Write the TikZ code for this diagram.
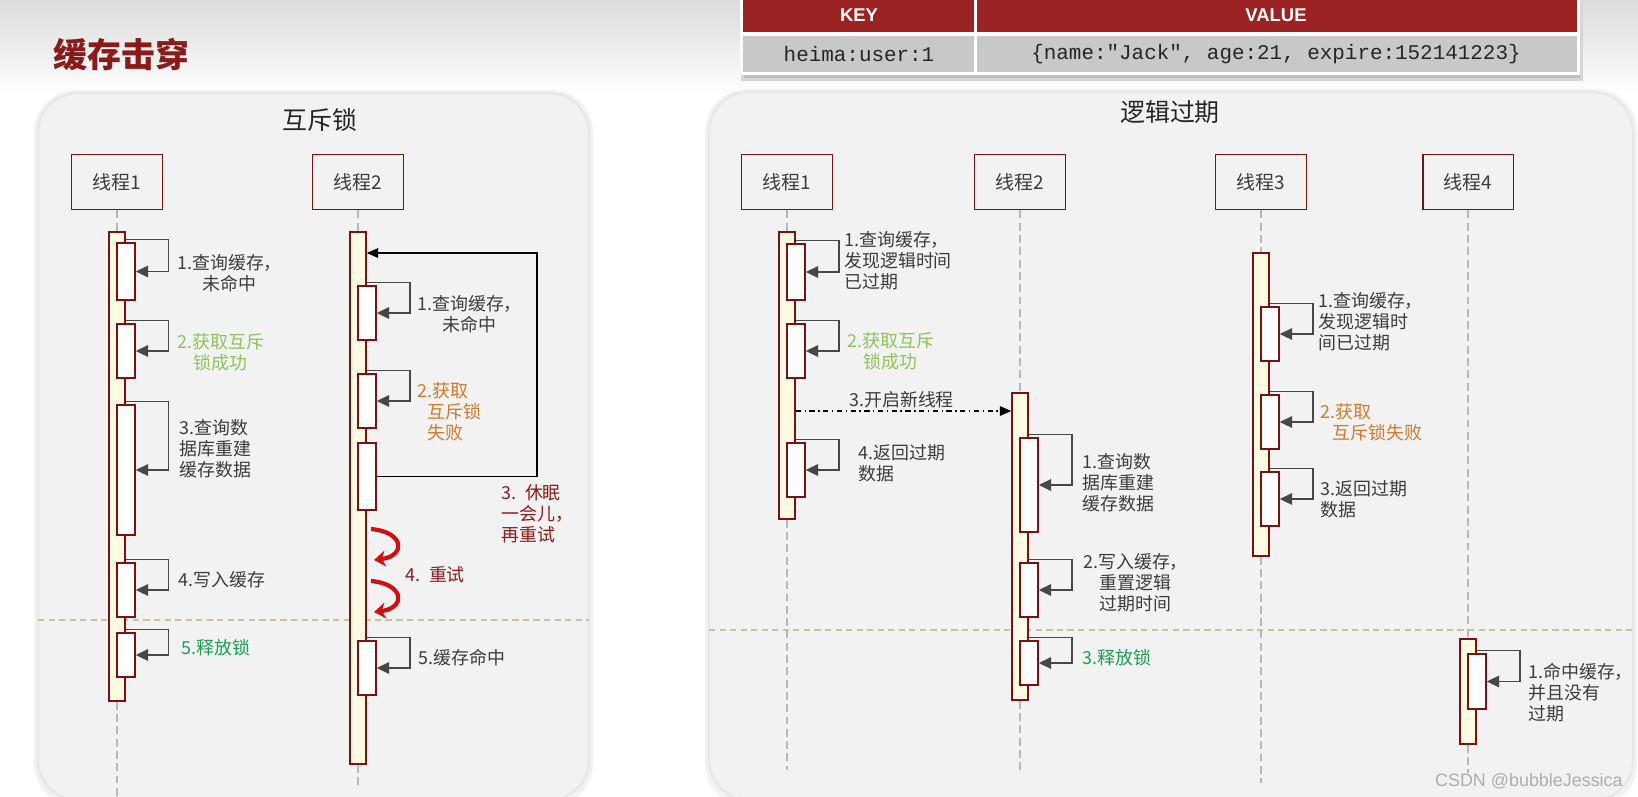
\documentclass[tikz,border=0pt]{standalone}
\usepackage{fontspec}
\setmainfont{Noto Sans CJK SC}
\newfontfamily\codefont{Liberation Mono}
\newfontfamily\headfont{Liberation Sans}
\usetikzlibrary{arrows.meta,fit,positioning}

\definecolor{darkred}{HTML}{7A1212}
\definecolor{titlered}{HTML}{8B1A1A}
\definecolor{cream}{HTML}{FFFBE3}
\definecolor{panel}{HTML}{F2F2F2}
\definecolor{txt}{HTML}{3C3C3C}
\definecolor{okgreen}{HTML}{8CC45A}
\definecolor{relgreen}{HTML}{1E9E55}
\definecolor{failorange}{HTML}{D27A2C}
\definecolor{sleepred}{HTML}{8E1B1B}
\definecolor{turnred}{HTML}{D01010}
\definecolor{hdrred}{HTML}{9B2323}
\definecolor{cellgray}{HTML}{C8C8C8}
\definecolor{sepline}{HTML}{C8C49A}

\begin{document}
\begin{tikzpicture}[x = .02cm, y = -.02cm,
	thread/.style = {draw = darkred, line width = 1.1pt, fill = panel, minimum width = 1.82cm, minimum height = 1.1cm, text = txt, font = \fontsize{10.8}{13}\selectfont},
	bar/.style = {draw = darkred, line width = .8pt, fill = cream, inner sep = 0},
	act/.style = {draw = darkred, line width = .8pt, fill = white, inner sep = 0},
	self/.style = {draw = black!72, line width = .9pt, -{Triangle[length = 7pt, width = 6.5pt]}},
	back/.style = {draw = black, line width = .6pt, -{Triangle[length = 6.5pt, width = 5.5pt]}},
	msg/.style = {draw = black, line width = .6pt, dash pattern = on 3pt off 2pt on .8pt off 2pt, -{Triangle[length = 6.5pt, width = 5.5pt]}},
	redturn/.style = {draw = turnred, line width = 2.4pt, -{Stealth[length = 6.5pt, width = 9pt]}},
	life/.style = {draw = black!28, line width = .7pt, dash pattern = on 4.5pt off 2.5pt},
	sep/.style = {draw = sepline, line width = .6pt, dash pattern = on 3.5pt off 2.5pt},
	lbl/.style = {anchor = north west, inner sep = 0, text = txt, align = left, font = \fontsize{10.2}{11.9}\selectfont},
	head/.style = {text = black!85, font = \fontsize{14.2}{16}\selectfont},
	panelbox/.style = {fill = panel, draw = black!9, line width = 1.5pt, rounded corners = .8cm},
	cell/.style = {inner sep = 0, text = black!85, font = \codefont\fontsize{11.9}{14}\selectfont}
]
\useasboundingbox (0,0) rectangle (1638,796);
\clip (0,0) rectangle (1638,796);
\fill [white] (0,0) rectangle (1638,796);
\shade [top color = black!14, bottom color = white] (0,0) rectangle (1638,96);

% panels
\fill [black!5, rounded corners = .85cm] (34,90) rectangle (593,806);
\draw [panelbox] (38,93) rectangle (589,800);
\fill [black!5, rounded corners = .85cm] (705,89) rectangle (1637,806);
\draw [panelbox] (709,92) rectangle (1633,800);

\node [anchor = west, inner sep = 0, text = titlered, font = \bfseries\fontsize{19.3}{22}\selectfont] (title) at (53,54) {缓存击穿};

% key / value table
\fill [black!16] (741,3) rectangle (1583,81);
\fill [black!26] (744,3) rectangle (1580,78);
\fill [white] (740,0) rectangle (1580,75);
\fill [hdrred] (743,-2) rectangle (974,32);
\fill [hdrred] (977,-2) rectangle (1577,32);
\fill [cellgray] (743,36) rectangle (974,72);
\fill [cellgray] (977,36) rectangle (1577,72);
\node [inner sep = 0, text = white, font = \headfont\bfseries\fontsize{10.5}{12}\selectfont] (keyh) at (859,15) {KEY};
\node [inner sep = 0, text = white, font = \headfont\bfseries\fontsize{10.5}{12}\selectfont] (valh) at (1276,15) {VALUE};
\node [cell] (keyc) at (859,54) {heima:user:1};
\node [cell] (valc) at (1276,54) {\{name:"Jack", age:21, expire:152141223\}};

\node [head] (mutex) at (320,120) {互斥锁};
\node [head] (logic) at (1170,112) {逻辑过期};

\draw [sep] (38,620) -- (589,620);
\draw [sep] (709,630) -- (1633,630);

% threads and lifelines
\foreach \n/\x/\t in {m1/117/1, m2/358/2, e1/787/1, e2/1020/2, e3/1261/3, e4/1468/4}
	\node [thread] (\n) at (\x,182) {线程\t};
\foreach \n/\x/\ya/\yb/\ye in {m1/117/232/701/800, m2/358/232/764/785, e1/787/232/519/770, e2/1020/393/700/770, e3/1261/253/556/783, e4/1468/639/744/773}{
	\node [bar, fit = {(\x-8,\ya) (\x+8,\yb)}] (\n b) {};
	\coordinate (\n end) at (\x,\ye);
	\draw [life] (\n) -- (\n b);
	\draw [life] (\n b) -- (\n end);
};

% activations
\foreach \n/\x/\ya/\yb in {m1a/117/243/300, m1c/117/324/378, m1d/117/405/535, m1e/117/563/617, m1f/117/633/677,
		m2a/358/286/340, m2c/358/374/428, m2d/358/443/510, m2e/358/641/695,
		e1a/787/244/300, e1c/787/324/378, e1d/787/443/497,
		e2a/1020/438/532, e2c/1020/563/617, e2d/1020/641/685,
		e3a/1261/307/361, e3c/1261/395/449, e3d/1261/472/526, e4a/1468/654/709}
	\node [act, fit = {(\x,\ya) (\x+18,\yb)}] (\n) {};

\foreach \a/\b in {m1a/m1b, m1c/m1b, m1d/m1b, m1e/m1b, m1f/m1b, m2a/m2b, m2c/m2b, m2e/m2b,
		e1a/e1b, e1c/e1b, e1d/e1b, e2a/e2b, e2c/e2b, e2d/e2b, e3a/e3b, e3c/e3b, e3d/e3b, e4a/e4b}
	\draw [self] (\a.north -| \b.east) ++(0,-3) -- ++(43,0) |- (\a.east);

\coordinate (again) at (537,253);
\draw [back] (m2d.east) -| (again) -- (again -| m2b.east);
\foreach \y in {529, 581}
	\draw [redturn] (371,\y) .. controls (405,\y+3) and (406,\y+27) .. (374,\y+31);

\coordinate (fork) at (900,411);
\draw [msg] (fork -| e1b.east) -- (fork -| e2b.west);

% labels
\node [lbl, align = center] (m1p) at (177,254) {1.查询缓存，\\未命中};
\node [lbl, align = center, text = okgreen] (m1q) at (177,333) {2.获取互斥\\锁成功};
\node [lbl] (m1r) at (179,419) {3.查询数\\据库重建\\缓存数据};
\node [lbl] (m1s) at (178,571) {4.写入缓存};
\node [lbl, text = relgreen] (m1t) at (181,639) {5.释放锁};
\node [lbl, align = center] (m2p) at (417,295) {1.查询缓存，\\未命中};
\node [lbl, text = failorange] (m2q) at (417,382) {2.获取\\\hspace*{5.7pt}互斥锁\\\hspace*{5.7pt}失败};
\node [lbl, text = sleepred] (m2r) at (501,484) {3.\hspace{5pt}休眠\\一会儿，\\再重试};
\node [lbl, text = sleepred] (m2s) at (405,566) {4.\hspace{5pt}重试};
\node [lbl] (m2t) at (418,649) {5.缓存命中};

\node [lbl] (e1p) at (844,231) {1.查询缓存，\\发现逻辑时间\\已过期};
\node [lbl, align = center, text = okgreen] (e1q) at (847,332) {2.获取互斥\\锁成功};
\node [lbl] (e1r) at (849,391) {3.开启新线程};
\node [lbl] (e1s) at (858,444) {4.返回过期\\数据};
\node [lbl] (e2p) at (1082,453) {1.查询数\\据库重建\\缓存数据};
\node [lbl, align = center] (e2q) at (1083,553) {2.写入缓存，\\重置逻辑\\过期时间};
\node [lbl, text = relgreen] (e2r) at (1082,649) {3.释放锁};
\node [lbl] (e3p) at (1318,292) {1.查询缓存，\\发现逻辑时\\间已过期};
\node [lbl, text = failorange] (e3q) at (1320,403) {2.获取\\\hspace*{6.8pt}互斥锁失败};
\node [lbl] (e3r) at (1320,480) {3.返回过期\\数据};
\node [lbl] (e4p) at (1528,663) {1.命中缓存，\\并且没有\\过期};

\node [anchor = south east, inner sep = 0, text = black!32, font = \headfont\fontsize{10.2}{12}\selectfont] (mark) at (1623,789) {CSDN @bubbleJessica};
\end{tikzpicture}
\end{document}
